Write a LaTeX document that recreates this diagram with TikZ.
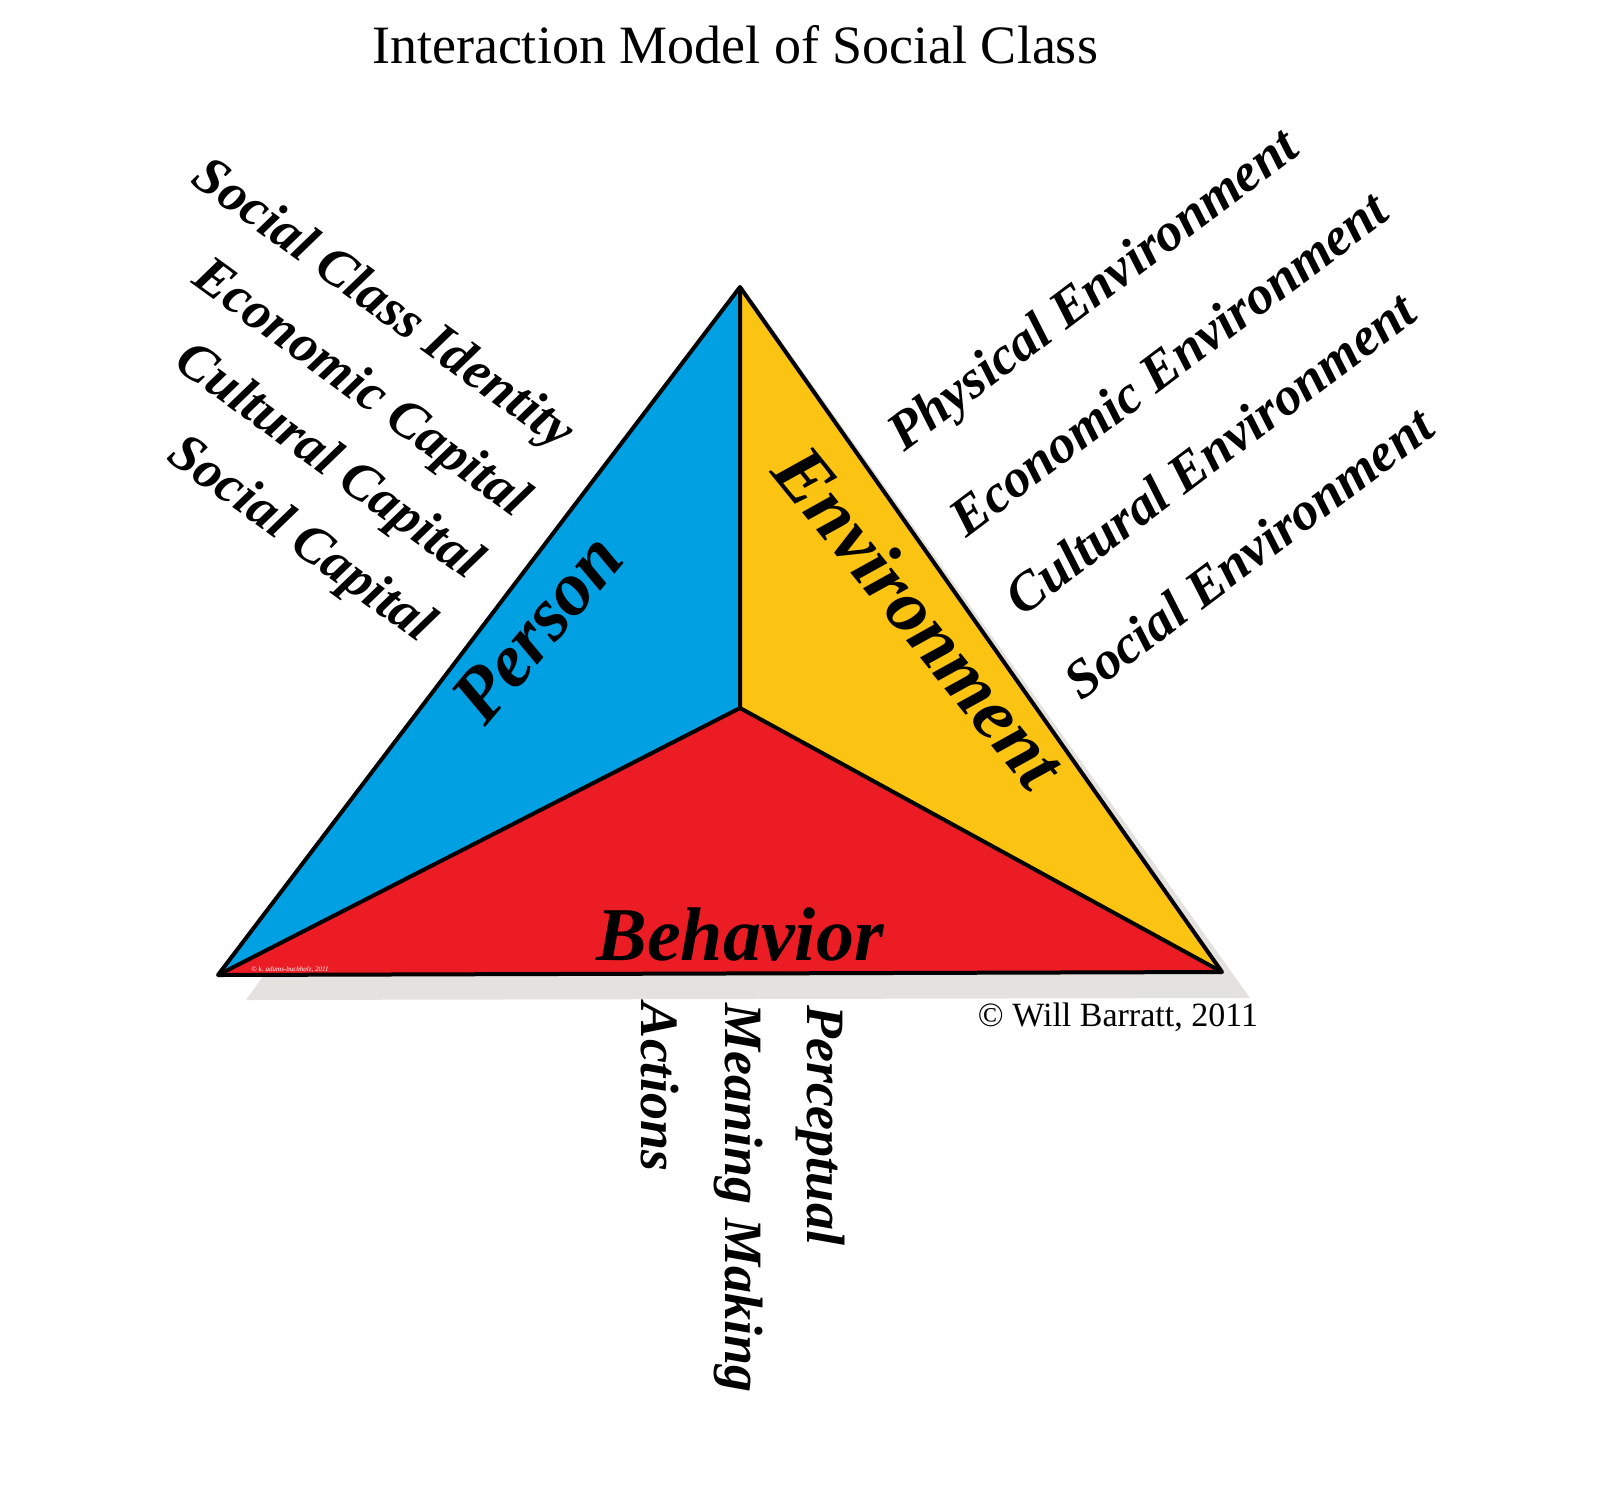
\documentclass[tikz,border=0pt]{standalone}
\usepackage{fontspec}
\setmainfont{Liberation Serif}
\begin{document}
\begin{tikzpicture}[x=1pt,y=-1pt,
  lab/.style={font=\fontsize{54}{58}\selectfont\bfseries\itshape, inner sep=0pt},
  big/.style={font=\fontsize{76}{80}\selectfont\bfseries\itshape, inner sep=0pt}]
\definecolor{cblue}{RGB}{0,160,226}
\definecolor{cyel}{RGB}{251,195,18}
\definecolor{cred}{RGB}{236,28,36}
\definecolor{cshadow}{RGB}{228,226,222}
\useasboundingbox (0,0) rectangle (1600,1500);
\fill[white] (0,0) rectangle (1600,1500);
\coordinate (A) at (740,287);
\coordinate (L) at (218,975);
\coordinate (R) at (1222,972);
\coordinate (C) at (740,708);
\fill[cshadow] (752,300) -- (1250,998) -- (246,1000) -- cycle;
\fill[cblue] (A) -- (C) -- (L) -- cycle;
\fill[cyel] (A) -- (R) -- (C) -- cycle;
\fill[cred] (L) -- (C) -- (R) -- cycle;
\draw[line width=4pt, line join=round] (A) -- (R) -- (L) -- cycle;
\draw[line width=4pt, line join=round] (A) -- (C) (L) -- (C) -- (R);
\node[font=\fontsize{54}{58}\selectfont] (title) at (735,45) {Interaction Model of Social Class};
\node[lab, rotate=-36] (t1) at (382,306) {Social Class Identity};
\node[lab, rotate=-36] (t2) at (360,390) {Economic Capital};
\node[lab, rotate=-36] (t3) at (328,463) {Cultural Capital};
\node[lab, rotate=-36] (t4) at (300,541) {Social Capital};
\node[lab, rotate=37] (e1) at (1095,293) {Physical Environment};
\node[lab, rotate=37] (e2) at (1168,363) {Economic Environment};
\node[lab, rotate=37] (e3) at (1210,453) {Cultural Environment};
\node[lab, rotate=37] (e4) at (1248,553) {Social Environment};
\node[big, rotate=50] (person) at (537,628) {Person};
\node[big, rotate=-51] (env) at (920,617) {Environment};
\node[big] (beh) at (740,935) {Behavior};
\node[lab, rotate=-90] (b1) at (660,1087) {Actions};
\node[lab, rotate=-90] (b2) at (738,1198) {Meaning Making};
\node[lab, rotate=-90] (b3) at (820,1125) {Perceptual};
\node[font=\fontsize{34}{38}\selectfont, inner sep=0pt] (copy) at (1118,1017) {© Will Barratt, 2011};
\node[font=\fontsize{7}{8}\selectfont\itshape, text=white, inner sep=0pt] (credit) at (290,970) {© k. adams-buchholz, 2011};
\end{tikzpicture}
\end{document}
